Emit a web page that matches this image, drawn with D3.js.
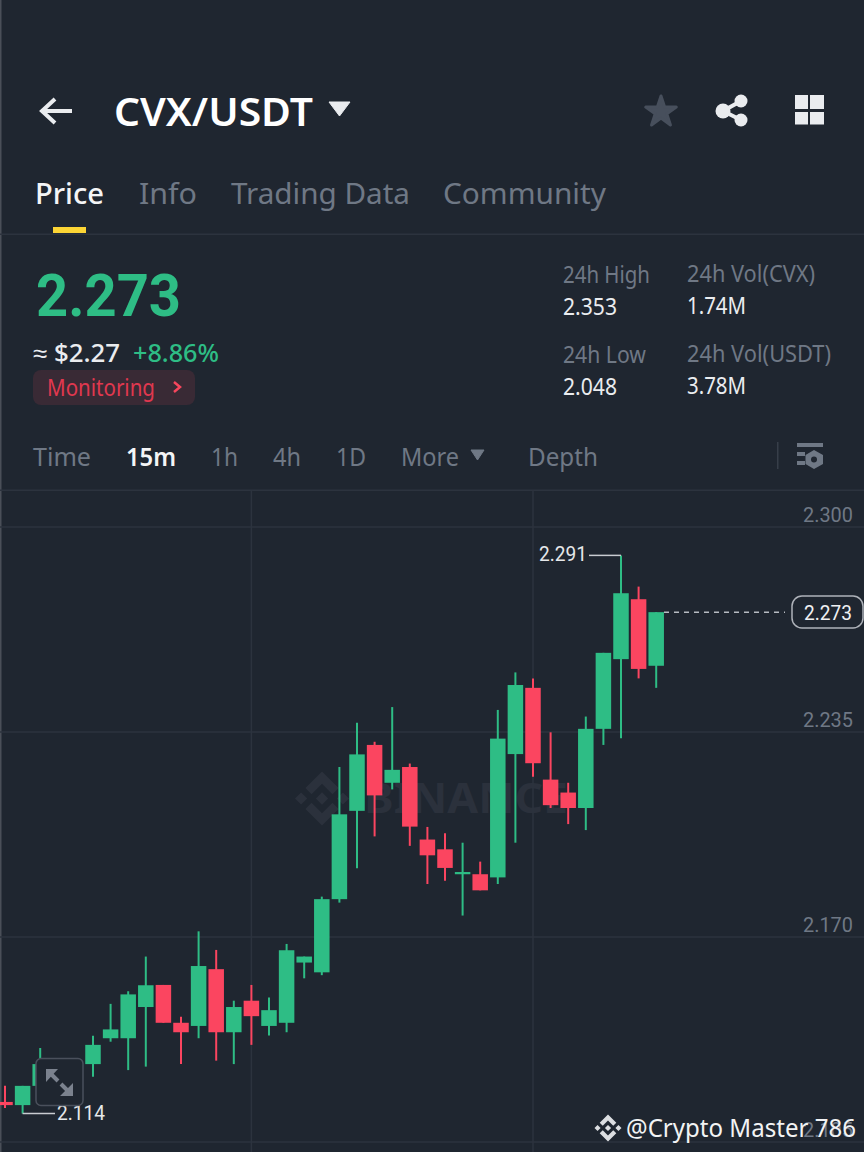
<!DOCTYPE html>
<html><head><meta charset="utf-8">
<script src="https://cdn.jsdelivr.net/npm/d3@7"></script>
<style>html,body{margin:0;padding:0;background:#1f2630;overflow:hidden}svg{display:block}</style>
</head><body><div id="c"></div>
<script>
// One slot per 15m candle; the two null slots sit behind the expand button and cannot be read.
const slots = d3.range(38);
const open  = [2.1177,2.1167,2.1228,null,null,2.1297,2.1379,2.1379,2.1478,2.1548,2.1428,2.1418,2.1598,2.1398,2.1498,2.1418,2.1428,2.1619,2.1588,2.1820,2.2100,2.2309,2.2189,2.2239,2.2009,2.1978,2.1899,2.1899,2.1889,2.2280,2.2490,2.2199,2.2158,2.2109,2.2360,2.2581,2.2771,2.2560];
const close = [2.1167,2.1228,2.1297,null,null,2.1358,2.1407,2.1518,2.1547,2.1428,2.1398,2.1608,2.1398,2.1478,2.1449,2.1468,2.1658,2.1638,2.1820,2.2089,2.2279,2.2149,2.2230,2.2050,2.1959,2.1919,2.1906,2.1848,2.2329,2.2499,2.2251,2.2118,2.2109,2.2360,2.2601,2.2790,2.2550,2.2730];
const high  = [2.1228,2.1228,2.1348,null,null,2.1387,2.1488,2.1528,2.1638,2.1548,2.1447,2.1718,2.1659,2.1498,2.1548,2.1508,2.1678,2.1638,2.1828,2.2239,2.2379,2.2319,2.2429,2.2250,2.2049,2.2029,2.1999,2.1939,2.2420,2.2539,2.2520,2.2349,2.2189,2.2399,2.2601,2.2910,2.2811,2.2730];
const low   = [2.1158,2.1140,2.1228,null,null,2.1257,2.1368,2.1278,2.1289,2.1428,2.1297,2.1379,2.1308,2.1297,2.1358,2.1388,2.1398,2.1569,2.1579,2.1809,2.1918,2.2019,2.2168,2.1989,2.1868,2.1878,2.1768,2.1848,2.1868,2.1999,2.2208,2.2109,2.2058,2.2039,2.2309,2.2330,2.2520,2.2490];
const priceTicks = [2.300,2.235,2.170,2.105];
const lastPrice = 2.273, maxPrice = 2.291, minPrice = 2.114;
const gridSlots = [14,30];

const BG="#1f2630", GRID="#2c333e", GREEN="#2ebd85", RED="#fb4560", MUTED="#6f7885", WHITE="#eaecef";
const UI="'Noto Sans',sans-serif", NUM="Roboto,sans-serif";
const svg=d3.select("#c").append("svg").attr("width",864).attr("height",1152);
svg.append("rect").attr("width",864).attr("height",1152).attr("fill",BG);
svg.append("rect").attr("width",1.5).attr("height",1152).attr("fill","#4a4f58");

function T(s,x,y,w,size,fill,weight,font){
  return svg.append("text").attr("x",x).attr("y",y).attr("font-size",size).attr("fill",fill)
    .attr("font-weight",weight||400).attr("font-family",font||UI)
    .attr("textLength",w).attr("lengthAdjust","spacingAndGlyphs").text(s);
}
const LOGO="M38.73 53.2l24.59-24.58 24.6 24.6 14.3-14.31L63.32 0 24.43 38.9l14.3 14.3zM0 63.31l14.3-14.31 14.31 14.31-14.31 14.3zM38.73 73.41l24.59 24.59 24.6-24.6 14.31 14.29-38.9 38.91-38.9-38.88-.02-.02 14.32-14.29zM98 63.31l14.3-14.31 14.31 14.3-14.31 14.32zM77.83 63.3L63.32 48.78 52.59 59.51l-1.24 1.23-2.54 2.54 14.51 14.5 14.51-14.47z";
function logo(cx,cy,size,fill){
  const k=size/126.61;
  svg.append("path").attr("d",LOGO).attr("fill",fill).attr("transform",`translate(${cx-size/2},${cy-size/2}) scale(${k})`);
}

// header
svg.append("path").attr("d","M72 111H42M55 99L42 111L55 123").attr("fill","none").attr("stroke",WHITE).attr("stroke-width",4);
T("CVX/USDT",114,126,199,39,"#fff",600);
svg.append("path").attr("d","M329 102H350L339.5 116Z").attr("fill",WHITE).attr("stroke",WHITE).attr("stroke-width",1).attr("stroke-linejoin","round");
svg.append("path").attr("d",d3.symbol(d3.symbolStar,290)()).attr("transform","translate(661,112)").attr("fill","#474f5c").attr("stroke","#474f5c").attr("stroke-width",3).attr("stroke-linejoin","round");
svg.append("path").attr("d","M741 101L723 111L741 120").attr("fill","none").attr("stroke",WHITE).attr("stroke-width",4);
[[741,101,6.5],[723,111,7.5],[741,120,6.5]].forEach(d=>svg.append("circle").attr("cx",d[0]).attr("cy",d[1]).attr("r",d[2]).attr("fill",WHITE));
[[795,95,13,14],[810,95,14,14],[795,112,13,12.5],[810,112,14,12.5]].forEach(d=>svg.append("rect").attr("x",d[0]).attr("y",d[1]).attr("width",d[2]).attr("height",d[3]).attr("fill",WHITE));

// tabs
T("Price",35,204,69,29,"#f4f5f6",500);
T("Info",139,204,58,29,MUTED);
T("Trading Data",231,204,179,29,MUTED);
T("Community",443,204,163,29,MUTED);
svg.append("rect").attr("x",53).attr("y",227).attr("width",33).attr("height",6).attr("fill","#fcd535");
svg.append("rect").attr("x",0).attr("y",233.5).attr("width",864).attr("height",1.5).attr("fill",GRID);

// price block
T("2.273",36,316,145,60,GREEN,700,NUM);
T("≈ $2.27",33,362,87,25,WHITE,500);
T("+8.86%",133,362,86,25,GREEN,500);
svg.append("rect").attr("x",33).attr("y",370).attr("width",162).attr("height",35).attr("rx",8).attr("fill","#392a35");
T("Monitoring",47,396,108,24,"#e0384f");
svg.append("path").attr("d","M174 382L180 387L174 392").attr("fill","none").attr("stroke","#f6465d").attr("stroke-width",2.5);
T("24h High",563,283,87,23,MUTED);
T("24h Vol(CVX)",687,282,128,23,MUTED);
T("2.353",563,315,54,23,WHITE);
T("1.74M",687,314,59,23,WHITE);
T("24h Low",563,363,83,23,MUTED);
T("24h Vol(USDT)",687,362,144,23,MUTED);
T("2.048",563,395,54,23,WHITE);
T("3.78M",687,394,59,23,WHITE);

// interval bar
T("Time",33,466,58,26,MUTED);
T("15m",126,466,50,26,"#f4f5f6",600);
T("1h",211,466,27,26,MUTED);
T("4h",273,466,28,26,MUTED);
T("1D",336,466,30,26,MUTED);
T("More",401,466,58,26,MUTED);
svg.append("path").attr("d","M471 450H484L477.5 460Z").attr("fill",MUTED).attr("stroke",MUTED).attr("stroke-linejoin","round");
T("Depth",528,466,70,26,MUTED);
svg.append("rect").attr("x",777).attr("y",442).attr("width",1.5).attr("height",27).attr("fill","#373e49");
svg.append("rect").attr("x",797).attr("y",443).attr("width",26).attr("height",4).attr("fill",MUTED);
svg.append("rect").attr("x",797).attr("y",452).attr("width",8).attr("height",4).attr("fill",MUTED);
svg.append("rect").attr("x",797).attr("y",461).attr("width",8).attr("height",4).attr("fill",MUTED);
svg.append("path").attr("fill-rule","evenodd").attr("fill",MUTED)
  .attr("d","M814 450L823 455V464L814 469L805.5 464V455ZM814 456.5A3 3 0 1 0 814 462.5A3 3 0 1 0 814 456.5Z");
svg.append("rect").attr("x",0).attr("y",489.5).attr("width",864).attr("height",1.5).attr("fill",GRID);

// scales
const y=d3.scaleLinear().domain([2.105,2.300]).range([1142,527]);
const x=d3.scaleLinear().domain([0,37]).range([5,656.2]);
const bodyW=15.5;

// watermark
logo(322,798.5,54,"#2b313c");
svg.append("text").attr("x",364).attr("y",813).attr("font-family",UI).attr("font-weight",700).attr("font-size",42)
  .attr("fill","#2b313c").attr("textLength",204).attr("lengthAdjust","spacingAndGlyphs").text("BINANCE");

// grid
svg.append("g").selectAll("line").data(priceTicks).join("line")
  .attr("x1",0).attr("x2",864).attr("y1",d=>y(d)).attr("y2",d=>y(d)).attr("stroke",GRID).attr("stroke-width",1.5);
svg.append("g").selectAll("line").data(gridSlots).join("line")
  .attr("x1",d=>x(d)).attr("x2",d=>x(d)).attr("y1",490).attr("y2",1152).attr("stroke",GRID).attr("stroke-width",1.5);

// axis labels
const axis=svg.append("g").attr("transform","translate(853,0)")
  .call(d3.axisLeft(y).tickValues(priceTicks).tickSize(0).tickPadding(0).tickFormat(d3.format(".3f")));
axis.select(".domain").remove();
axis.selectAll("text").attr("dy",-6).attr("text-anchor","end").attr("font-family",NUM).attr("font-size",20.5)
  .attr("fill",MUTED).attr("textLength",50).attr("lengthAdjust","spacingAndGlyphs");

// candles
const visible=slots.filter(i=>open[i]!==null);
const col=i=>close[i]>=open[i]?GREEN:RED;
const g=svg.append("g");
g.selectAll("line").data(visible).join("line")
  .attr("x1",i=>x(i)).attr("x2",i=>x(i)).attr("y1",i=>y(high[i])).attr("y2",i=>y(low[i]))
  .attr("stroke",col).attr("stroke-width",2);
g.selectAll("rect").data(visible).join("rect")
  .attr("x",i=>x(i)-bodyW/2).attr("width",bodyW)
  .attr("y",i=>y(Math.max(open[i],close[i])))
  .attr("height",i=>Math.max(2,Math.abs(y(open[i])-y(close[i]))))
  .attr("fill",col);

// max / min / last markers
svg.append("path").attr("d",`M${x(35)} ${y(maxPrice)}H589`).attr("fill","none").attr("stroke","#c9ccd1").attr("stroke-width",1.5);
T("2.291",539,561,48,20.5,"#e6e8ea",400,NUM);
svg.append("path").attr("d",`M${x(1)} ${y(minPrice)}H55`).attr("fill","none").attr("stroke","#c9ccd1").attr("stroke-width",1.5);
T("2.114",57,1120,48,20.5,"#e6e8ea",400,NUM);
svg.append("line").attr("x1",664).attr("x2",785).attr("y1",y(lastPrice)).attr("y2",y(lastPrice))
  .attr("stroke","#b7bbc2").attr("stroke-width",1.5).attr("stroke-dasharray","5 5");
svg.append("rect").attr("x",792).attr("y",596).attr("width",71).attr("height",32).attr("rx",10)
  .attr("fill",BG).attr("stroke","#aeb2b9").attr("stroke-width",1.5);
T("2.273",804,620,48,20.5,"#f0f1f3",400,NUM);

// expand button
svg.append("rect").attr("x",36).attr("y",1058.5).attr("width",47).attr("height",47).attr("rx",5)
  .attr("fill",BG).attr("stroke","#4a505c").attr("stroke-width",1.5);
svg.append("path").attr("d","M46 1069L58 1069L46 1082Z M73 1096L60 1096L73 1083Z").attr("fill","#7b828e");
svg.append("path").attr("d","M49 1072L58 1081M61 1084L70 1093").attr("stroke","#7b828e").attr("stroke-width",4).attr("fill","none");

// footer credit
logo(608,1128,27,"#dcdee1");
T("@Crypto Master 786",626,1137,230,26,"#f2f3f4",400);
</script></body></html>
